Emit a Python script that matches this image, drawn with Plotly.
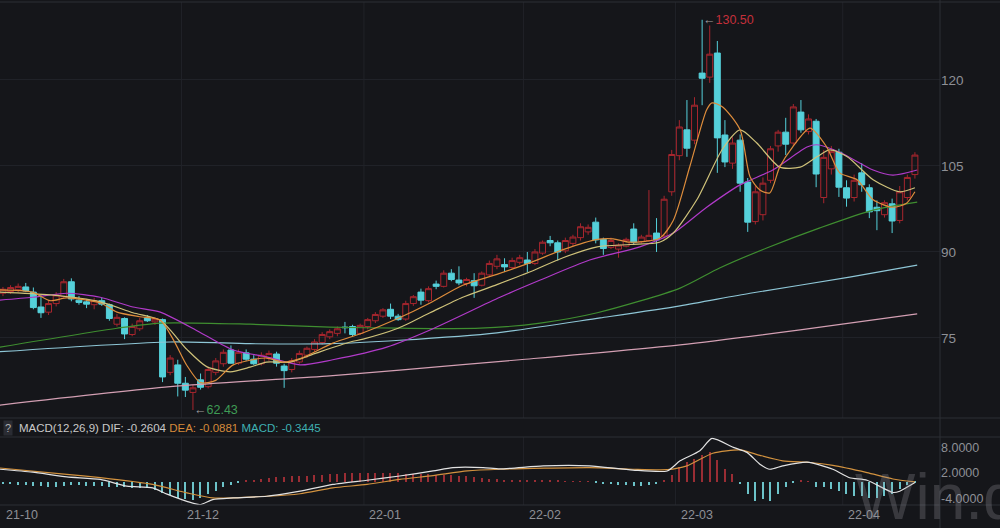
import plotly.graph_objects as go

# ---------------- data ----------------
opens = [82.8, 83.1, 83.4, 83.9, 83.0, 80.4, 79.5, 81.0, 82.2, 84.8,
         81.6, 81.3, 80.8, 81.5, 80.8, 77.4, 78.4, 75.6, 76.6, 78.5,
         77.8, 78.2, 69.0, 70.3, 67.1, 65.5, 67.7, 66.5, 69.0, 70.5,
         72.9, 70.6, 72.4, 71.3, 70.5, 71.5, 72.2, 70.1, 69.5, 70.8,
         72.0, 73.0, 74.2, 75.2, 75.8, 76.9, 77.0, 75.8, 77.0, 78.0,
         78.8, 80.0, 78.8, 78.3, 81.0, 83.0, 81.5, 84.4, 84.0, 86.3,
         85.1, 84.5, 85.0, 84.2, 86.0, 87.5, 87.8, 87.3, 88.2, 88.6,
         88.0, 89.8, 92.0, 91.6, 90.2, 91.5, 92.5, 93.5, 95.2, 92.2,
         90.8, 90.5, 91.0, 94.0, 91.8, 92.0, 93.3, 92.8, 100.5, 106.8,
         111.3, 109.5, 121.2, 120.5, 124.7, 110.4, 105.5, 109.5, 102.2, 95.3,
         96.5, 102.5, 108.5, 110.9, 109.0, 114.4, 111.0, 112.8, 99.5, 104.5,
         107.4, 101.2, 99.5, 103.8, 101.2, 97.8, 96.5, 98.4, 95.5, 99.5,
         103.5]
highs = [83.9, 84.2, 84.5, 84.6, 83.8, 82.5, 81.5, 83.0, 85.3, 85.4,
         82.3, 81.8, 82.0, 82.0, 81.0, 79.2, 78.6, 77.5, 78.5, 79.0,
         78.6, 78.4, 72.0, 71.2, 68.2, 66.8, 68.8, 70.0, 71.5, 73.0,
         73.7, 73.0, 73.0, 72.0, 72.5, 72.8, 72.6, 70.5, 71.5, 72.8,
         73.5, 74.8, 76.0, 76.5, 77.0, 77.8, 77.3, 77.5, 78.5, 79.5,
         80.2, 81.0, 79.2, 81.5, 82.5, 83.6, 84.0, 85.0, 86.8, 87.0,
         87.5, 85.5, 86.3, 86.6, 88.5, 89.5, 88.9, 89.0, 89.5, 90.0,
         90.5, 92.0, 92.8, 92.0, 92.5, 93.0, 95.0, 94.8, 96.0, 92.5,
         92.5, 91.5, 92.5, 95.0, 93.0, 100.8, 95.9, 99.8, 107.8, 113.0,
         116.5, 117.0, 130.5, 129.5, 126.8, 113.0, 110.0, 110.5, 102.9, 101.5,
         103.0, 108.5, 111.3, 113.4, 115.8, 116.5, 114.0, 113.2, 107.8, 108.5,
         108.0, 102.5, 103.5, 105.5, 101.8, 99.0, 99.0, 99.3, 101.5, 103.5,
         107.4]
lows = [82.3, 82.7, 83.0, 83.0, 80.0, 78.5, 79.0, 80.5, 81.8, 81.4,
        80.8, 80.2, 80.0, 80.6, 78.0, 77.0, 74.8, 75.3, 76.2, 77.8,
        77.3, 67.3, 68.5, 64.8, 64.7, 62.43, 66.0, 66.2, 68.5, 70.0,
        70.5, 70.3, 71.0, 70.3, 70.2, 71.0, 70.0, 66.3, 69.0, 70.5,
        71.5, 72.6, 73.8, 74.8, 75.3, 75.8, 75.2, 75.5, 76.5, 77.6,
        78.5, 78.3, 78.0, 78.0, 80.6, 80.8, 81.2, 83.5, 83.8, 84.9,
        84.2, 84.0, 82.0, 84.0, 85.8, 87.0, 86.5, 87.0, 87.8, 86.5,
        87.7, 89.5, 91.0, 88.5, 89.8, 91.0, 92.0, 93.0, 91.5, 89.5,
        90.5, 89.0, 90.8, 91.3, 91.5, 91.8, 90.0, 92.3, 99.8, 106.0,
        106.6, 108.8, 115.6, 119.5, 103.8, 104.8, 104.5, 100.5, 93.5, 94.8,
        95.5, 102.0, 107.5, 106.9, 108.5, 110.8, 110.5, 101.3, 98.5, 103.5,
        99.6, 97.9, 98.8, 100.5, 95.9, 93.8, 96.0, 93.3, 95.0, 99.0,
        102.8]
closes = [83.5, 83.8, 84.0, 83.2, 80.3, 79.4, 81.0, 82.5, 84.8, 81.8,
          81.2, 80.9, 81.5, 80.9, 78.4, 78.6, 75.7, 77.0, 78.0, 78.0,
          78.3, 68.2, 71.5, 67.1, 65.9, 66.3, 66.4, 69.5, 71.0, 72.5,
          70.6, 72.5, 71.3, 70.5, 72.0, 72.3, 70.6, 69.3, 71.0, 72.3,
          73.2, 74.3, 75.6, 76.1, 76.6, 76.8, 75.6, 77.2, 78.2, 79.1,
          79.9, 78.8, 78.2, 81.0, 82.2, 81.6, 83.6, 84.0, 86.3, 85.2,
          84.6, 85.2, 84.1, 86.3, 88.0, 88.8, 87.4, 88.5, 89.0, 88.0,
          90.0, 91.7, 91.6, 90.0, 92.0, 92.6, 94.4, 94.3, 92.1, 90.6,
          92.0, 91.2, 92.2, 91.7, 92.6, 92.9, 92.1, 99.2, 107.0, 111.8,
          108.1, 115.6, 120.3, 124.5, 109.9, 105.7, 109.0, 102.0, 95.2, 100.5,
          102.0, 108.0, 110.9, 108.8, 115.3, 111.3, 113.2, 103.6, 106.5, 107.5,
          101.3, 99.4, 102.5, 101.7, 97.0, 97.2, 98.6, 95.4, 100.5, 103.0,
          106.9]

# moving averages, sampled at candle positions (index, value)
ma5_x = [-0.4, 3.9, 6.2, 8.4, 12.8, 15.0, 18.0, 20.7, 22.5, 24.2, 26.0, 28.0, 30.3,
         34.7, 36.8, 39.1, 43.4, 47.4, 51.8, 56.2, 60.5, 65.0, 69.3, 73.7, 78.2,
         80.3, 82.5, 86.4, 88.2, 90.4, 92.6, 93.3, 94.7, 97.0, 98.3, 99.6, 100.9,
         102.2, 103.9, 106.2, 108.4, 110.1, 112.4, 114.5, 117.1, 118.9, 120.0]
ma5_y = [83.4, 83.0, 81.5, 82.0, 81.1, 79.5, 78.7, 78.1, 74.5, 70.2, 67.2, 67.6, 70.3,
         71.5, 70.8, 71.4, 74.1, 75.9, 78.3, 81.1, 84.2, 86.1, 88.1, 90.4, 92.2,
         92.3, 91.7, 92.4, 95.5, 105.0, 114.8, 116.0, 115.3, 111.3, 103.1, 100.8, 100.3,
         104.8, 108.3, 111.6, 108.3, 103.8, 102.6, 99.1, 97.8, 98.5, 100.5]
ma10_x = [-0.4, 6.2, 12.8, 17.1, 20.7, 24.2, 26.8, 29.9, 32.5, 34.7, 37.8, 41.3,
          45.7, 47.4, 51.8, 56.2, 60.5, 65.0, 69.3, 73.7, 78.2, 82.5, 86.4, 88.2,
          91.3, 94.7, 97.0, 99.2, 102.2, 104.9, 107.1, 108.8, 111.1, 114.5, 118.0, 120.0]
ma10_y = [83.0, 82.5, 81.3, 79.4, 78.1, 73.0, 70.0, 69.1, 69.9, 70.8, 70.8, 72.4,
          74.3, 74.8, 76.6, 79.4, 82.1, 84.3, 86.5, 89.0, 90.9, 91.3, 91.7, 93.3,
          99.1, 108.0, 111.3, 109.0, 104.8, 104.8, 106.6, 107.8, 106.6, 102.6, 100.5, 101.2]
ma20_x = [-0.4, 3.9, 8.4, 12.8, 17.1, 20.7, 25.9, 30.3, 34.7, 39.1, 43.4, 50.5,
          56.2, 65.4, 70.7, 77.2, 83.8, 88.2, 92.6, 97.0, 101.3, 105.8, 107.1, 110.1,
          114.5, 117.1, 120.3]
ma20_y = [81.6, 82.1, 82.8, 82.1, 80.4, 79.5, 76.0, 72.9, 71.7, 70.3, 71.2, 73.4,
          76.4, 82.1, 85.1, 88.6, 90.9, 93.3, 97.8, 101.7, 104.3, 108.3, 108.7, 107.4,
          104.3, 103.4, 104.3]
ma60_x = [-0.4, 15.0, 20.7, 32.5, 43.0, 52.2, 62.8, 70.7, 78.2, 89.1, 94.3, 100.5,
          107.5, 114.5, 120.3]
ma60_y = [73.4, 76.7, 77.6, 77.4, 76.9, 76.7, 76.7, 77.6, 79.4, 83.7, 87.2, 90.7,
          94.2, 97.3, 98.7]
ma120_x = [-0.4, 22.0, 32.5, 43.0, 52.2, 65.0, 78.6, 89.1, 98.3, 111.4, 120.3]
ma120_y = [72.6, 74.3, 74.0, 74.0, 74.6, 75.9, 78.5, 80.6, 82.8, 85.6, 87.7]
ma250_x = [-0.4, 22.0, 43.0, 52.2, 68.0, 89.1, 104.9, 120.3]
ma250_y = [63.3, 66.5, 68.4, 69.4, 71.2, 73.8, 76.4, 79.2]

# MACD lines (index, value) and histogram per candle
dif_x = [-0.4, 3.9, 8.4, 12.8, 16.3, 19.7, 21.6, 24.2, 25.9, 27.6, 30.3, 34.7, 36.8,
         39.1, 43.4, 47.9, 52.2, 56.6, 59.2, 63.2, 65.4, 71.1, 77.2, 82.9, 87.4,
         89.1, 91.7, 93.3, 96.1, 97.9, 99.6, 100.9, 102.6, 105.8, 109.2, 111.4,
         113.7, 117.1, 118.0, 120.0]
dif_y = [2.9, 2.2, 1.1, 0.5, -1.1, -1.5, -3.0, -4.7, -5.5, -4.3, -3.9, -3.5, -3.0,
         -2.3, -0.7, 0.3, 1.3, 2.5, 3.3, 3.3, 3.0, 3.7, 3.7, 2.7, 2.5,
         4.9, 7.3, 10.2, 8.1, 6.9, 4.1, 2.9, 3.7, 4.6, 2.9, 0.9,
         0.3, -2.6, -2.3, -0.2604]
dea_x = [-0.4, 8.4, 12.8, 19.7, 24.2, 27.6, 34.7, 39.1, 43.4, 47.9, 52.2, 56.6,
         61.1, 65.4, 77.2, 82.9, 87.4, 90.0, 93.4, 97.0, 99.6, 102.6, 106.2, 109.2,
         113.7, 117.1, 120.0]
dea_y = [3.2, 1.7, 0.9, -0.7, -2.7, -3.9, -3.5, -2.9, -1.5, -0.7, 0.5, 1.4,
         2.5, 2.9, 3.3, 2.9, 2.8, 3.7, 6.7, 7.5, 6.2, 4.9, 4.5, 3.8,
         2.1, 0.6, -0.0881]
macd_hist = [-0.6, -0.7, -0.8, -0.9, -1.0, -1.1, -1.2, -1.2, -1.1, -0.9,
             -0.9, -1.0, -1.0, -1.1, -1.2, -1.3, -1.4, -1.5, -1.5,
             -1.6, -2.0, -2.8, -3.3, -3.8, -4.2, -4.4, -4.0,
             -3.0, -2.2, -1.4, -0.8, -0.3,
             0.2, 0.4, 0.6, 0.8, 1.0, 1.1, 1.2, 1.3, 1.4, 1.5, 1.6, 1.7, 1.8, 1.9,
             2.0, 2.0, 2.1, 2.1, 2.0, 2.0, 1.9, 1.8, 1.8, 1.7, 1.7, 1.6, 1.6, 1.5,
             1.4, 1.3, 1.1, 0.9, 0.7,
             0.5, 0.4, 0.4, 0.3, 0.3, 0.3, 0.2, 0.2, 0.2, 0.1, 0.1, 0.1, 0.05,
             -0.3, -0.5, -0.7, -0.8, -0.9, -1.0, -1.0, -0.9, -0.7,
             0.3, 1.5, 3.4, 4.6, 5.4, 6.2, 7.0, 5.0, 3.0, 1.8,
             -0.6, -3.0, -4.6, -4.2, -4.6, -3.0, -1.4, -0.4, 0.2, 0.1,
             -1.2, -1.4, -1.8, -2.2, -3.0, -3.4, -3.4, -3.8, -3.8, -3.4, -3.0, -1.8, -0.8,
             -0.3445]

month_labels = ["21-10", "21-12", "22-01", "22-02", "22-03", "22-04"]
month_pos = [-0.3, 23.5, 47.5, 68.5, 88.5, 110.5]
price_ticks = [75, 90, 105, 120]
macd_ticks = [8, 2, -4]
macd_tick_text = ["8.0000", "2.0000", "-4.0000"]

high_idx, high_val = 92, 130.50
low_idx, low_val = 25, 62.43

# ---------------- style ----------------
BG = "#15161a"
RED = "#a8262e"
CYAN = "#55d0da"
GRID = "#202228"
SEP = "#2c2e35"
TXT = "#8e9096"
FONT = "Liberation Sans, Arial, sans-serif"

W, H = 1000, 528
PLOT_W = 940
idx = list(range(len(opens)))


def py(px):
    return 1 - px / H


fig = go.Figure()

ma_specs = [
    (ma250_x, ma250_y, "#d39fb3"),
    (ma120_x, ma120_y, "#8ec6d6"),
    (ma60_x, ma60_y, "#3f8e30"),
    (ma20_x, ma20_y, "#b13ac9"),
    (ma10_x, ma10_y, "#cfc27a"),
    (ma5_x, ma5_y, "#de8d3c"),
]
for xs, ys, col in ma_specs:
    fig.add_trace(go.Scatter(x=xs, y=ys, mode="lines", xaxis="x", yaxis="y",
                             line=dict(color=col, width=1.2, shape="spline", smoothing=0.7),
                             hoverinfo="skip", showlegend=False))

fig.add_trace(go.Candlestick(
    x=idx, open=opens, high=highs, low=lows, close=closes,
    xaxis="x", yaxis="y",
    increasing=dict(line=dict(color=RED, width=1), fillcolor="rgba(0,0,0,0)"),
    decreasing=dict(line=dict(color=CYAN, width=1), fillcolor=CYAN),
    whiskerwidth=0, hoverinfo="skip", showlegend=False))

fig.add_trace(go.Bar(
    x=idx, y=macd_hist, xaxis="x", yaxis="y2", width=0.18,
    marker=dict(color=["#9a2d34" if v > 0 else "#6cc3c9" for v in macd_hist], line=dict(width=0)),
    hoverinfo="skip", showlegend=False))
fig.add_trace(go.Scatter(x=dea_x, y=dea_y, mode="lines", xaxis="x", yaxis="y2",
                         line=dict(color="#d2923f", width=1.2, shape="spline", smoothing=0.6),
                         hoverinfo="skip", showlegend=False))
fig.add_trace(go.Scatter(x=dif_x, y=dif_y, mode="lines", xaxis="x", yaxis="y2",
                         line=dict(color="#e2e2e2", width=1.2, shape="spline", smoothing=0.6),
                         hoverinfo="skip", showlegend=False))

# axes ranges from the picture's pixel scale
main_top, main_bot = 133.95, 61.04
macd_top, macd_bot = 10.545, -5.569

shapes = []
for y_px in [2, 418, 437, 505]:
    shapes.append(dict(type="line", xref="paper", yref="paper", x0=0, x1=W / PLOT_W,
                       y0=py(y_px), y1=py(y_px), line=dict(color=SEP, width=1)))
shapes.append(dict(type="line", xref="paper", yref="paper", x0=1, x1=1, y0=0, y1=1,
                   line=dict(color=SEP, width=1)))
for m in month_pos[1:]:
    for (a, b) in [(py(418), py(2)), (py(505), py(437))]:
        shapes.append(dict(type="line", xref="x", yref="paper", x0=m, x1=m, y0=a, y1=b,
                           line=dict(color=GRID, width=1), layer="below"))

annotations = []
for lab, pos in zip(month_labels, month_pos):
    annotations.append(dict(x=pos, y=py(515), xref="x", yref="paper", text=lab,
                            showarrow=False, xanchor="left", yanchor="middle", xshift=3,
                            font=dict(family=FONT, size=12.5, color=TXT)))
annotations.append(dict(x=high_idx, y=high_val, xref="x", yref="y",
                        text="<span style='color:#a0a0a0'>←</span>%.2f" % high_val,
                        showarrow=False, xanchor="left", yanchor="middle", xshift=-1,
                        font=dict(family=FONT, size=12.5, color="#c4303a")))
annotations.append(dict(x=low_idx, y=low_val, xref="x", yref="y",
                        text="<span style='color:#a0a0a0'>←</span>%.2f" % low_val,
                        showarrow=False, xanchor="left", yanchor="middle", xshift=-1,
                        font=dict(family=FONT, size=12.5, color="#3f9c55")))
annotations.append(dict(x=8 / PLOT_W, y=py(428), xref="paper", yref="paper", text="?",
                        showarrow=False, xanchor="center", yanchor="middle",
                        bgcolor="#2a2c33", borderpad=1,
                        font=dict(family=FONT, size=11, color="#b0b0b0")))
annotations.append(dict(
    x=17 / PLOT_W, y=py(428), xref="paper", yref="paper",
    text=("MACD(12,26,9) DIF: -0.2604 "
          "<span style='color:#d4893a'>DEA: -0.0881</span> "
          "<span style='color:#3fb0b2'>MACD: -0.3445</span>"),
    showarrow=False, xanchor="left", yanchor="middle",
    font=dict(family=FONT, size=11.5, color="#c9c9c9")))
annotations.append(dict(x=853 / PLOT_W, y=py(497), xref="paper", yref="paper", text="Win.d",
                        showarrow=False, xanchor="left", yanchor="middle",
                        font=dict(family=FONT, size=64, color="rgba(150,152,158,0.28)")))

fig.update_layout(
    width=W, height=H,
    margin=dict(l=0, r=W - PLOT_W, t=0, b=0),
    paper_bgcolor=BG, plot_bgcolor=BG,
    boxgap=0.22, boxgroupgap=0,
    bargap=0,
    xaxis=dict(range=[-0.39, 123.3], showgrid=False, zeroline=False, showticklabels=False,
               showline=False, rangeslider=dict(visible=False), anchor="y2", fixedrange=True),
    yaxis=dict(domain=[py(418), py(0)], range=[main_bot, main_top], side="right",
               tickvals=price_ticks, ticktext=[str(v) for v in price_ticks],
               showgrid=True, gridcolor=GRID, zeroline=False, showline=False, ticks="",
               tickfont=dict(family=FONT, size=13.5, color=TXT), anchor="x"),
    yaxis2=dict(domain=[py(505), py(437)], range=[macd_bot, macd_top], side="right",
                tickvals=macd_ticks, ticktext=macd_tick_text,
                showgrid=False, zeroline=False, showline=False, ticks="",
                tickfont=dict(family=FONT, size=12.5, color=TXT), anchor="x"),
    shapes=shapes, annotations=annotations,
)

fig.write_html("out.html",
               config={"displayModeBar": False},
               post_script="document.body.style.margin='0';document.body.style.overflow='hidden';document.body.style.background='%s';" % BG)
